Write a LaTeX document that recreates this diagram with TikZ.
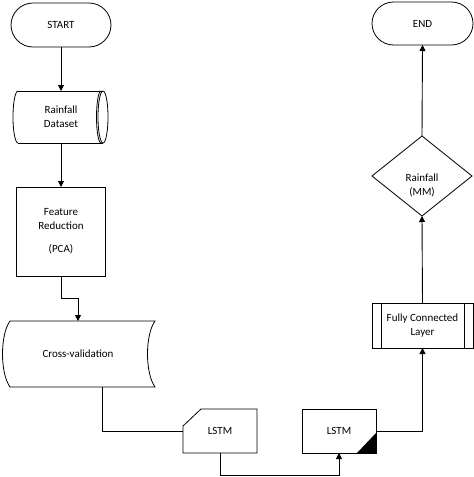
\documentclass[tikz,border=0pt]{standalone}
\usepackage{fontspec}
\setmainfont{Carlito}
\usetikzlibrary{arrows.meta,shapes.geometric,calc}
\begin{document}
\begin{tikzpicture}[x=1pt,y=-1pt,
  every node/.style={font=\fontsize{11}{14}\selectfont,align=center,inner sep=0pt,outer sep=0pt},
  shapeline/.style={draw=black,line width=0.8pt},
  conn/.style={draw=black,line width=0.9pt},
  arr/.style={conn,-{Triangle[length=6pt,width=6pt]}},
  term/.style={shapeline,rectangle,minimum width=100pt,minimum height=44pt,rounded corners=22pt}]
\fill[white] (0,0) rectangle (474,477);
\useasboundingbox (0,0) rectangle (474,477);

% nodes
\node[term] (start) at (61,25) {START};
\node[minimum width=95pt,minimum height=52pt] (data) at (61,117) {Rainfall\\Dataset};
\node[shapeline,rectangle,minimum width=89pt,minimum height=89pt] (feat) at (61,231.5) {Feature\\Reduction\\[9pt](PCA)};
\node[minimum width=150pt,minimum height=66pt] (cv) at (78,354) {Cross-validation};
\node[minimum width=74pt,minimum height=44pt] (lstma) at (220,431) {LSTM};
\node[shapeline,rectangle,minimum width=74pt,minimum height=44pt] (lstmb) at (339,431) {LSTM};
\node[shapeline,rectangle,minimum width=101pt,minimum height=45pt] (fc) at (422.5,325.5) {Fully Connected\\Layer};
\node[shapeline,diamond,minimum width=100pt,minimum height=80pt] (dia) at (422,176) {};
\node (diatext) at (422,185) {Rainfall\\(MM)};
\node[term,minimum width=101pt,minimum height=43pt,rounded corners=21.5pt] (end) at (422.5,23.5) {END};

% Rainfall Dataset cylinder
\draw[shapeline] (18,91) -- (103,91);
\draw[shapeline] (18,143) -- (103,143);
\draw[shapeline] (18,91) arc[start angle=270,end angle=90,x radius=5,y radius=26];
\draw[shapeline] (103,117) ellipse[x radius=5,y radius=26];
\draw[shapeline] (101,91) arc[start angle=270,end angle=90,x radius=4.5,y radius=26];

% Cross-validation stored data
\draw[shapeline] (10,321) -- (155,321) .. controls (145,335) and (145,373) .. (155,387)
  -- (10,387) .. controls (0,373) and (0,335) .. (10,321) -- cycle;

% LSTM 1 card
\draw[shapeline] ([yshift=-17pt]lstma.north west) -- ([xshift=18pt]lstma.north west)
  -- (lstma.north east) -- (lstma.south east) -- (lstma.south west) -- cycle;

% LSTM 2 black corner
\fill[black] (lstmb.south east) -- ([yshift=20pt]lstmb.south east) -- ([xshift=-19pt]lstmb.south east) -- cycle;

% Fully connected inner lines
\draw[shapeline] ([xshift=9pt]fc.north west) -- ([xshift=9pt]fc.south west);
\draw[shapeline] ([xshift=-9pt]fc.north east) -- ([xshift=-9pt]fc.south east);

% connectors
\draw[arr] (start.south) -- (data.north);
\draw[arr] (data.south) -- (feat.north);
\draw[arr] (feat.south) |- ($(feat.south)!0.5!(cv.north)$) -| (cv.north);
\draw[conn] ([xshift=24pt]cv.south) |- (lstma.west);
\draw[arr] (lstma.south) -- ++(0,22) -| (lstmb.south);
\draw[arr] (lstmb.east) -| (fc.south);
\draw[arr] (fc.north) -- (dia.south);
\draw[arr] (dia.north) -- (end.south);
\end{tikzpicture}
\end{document}
